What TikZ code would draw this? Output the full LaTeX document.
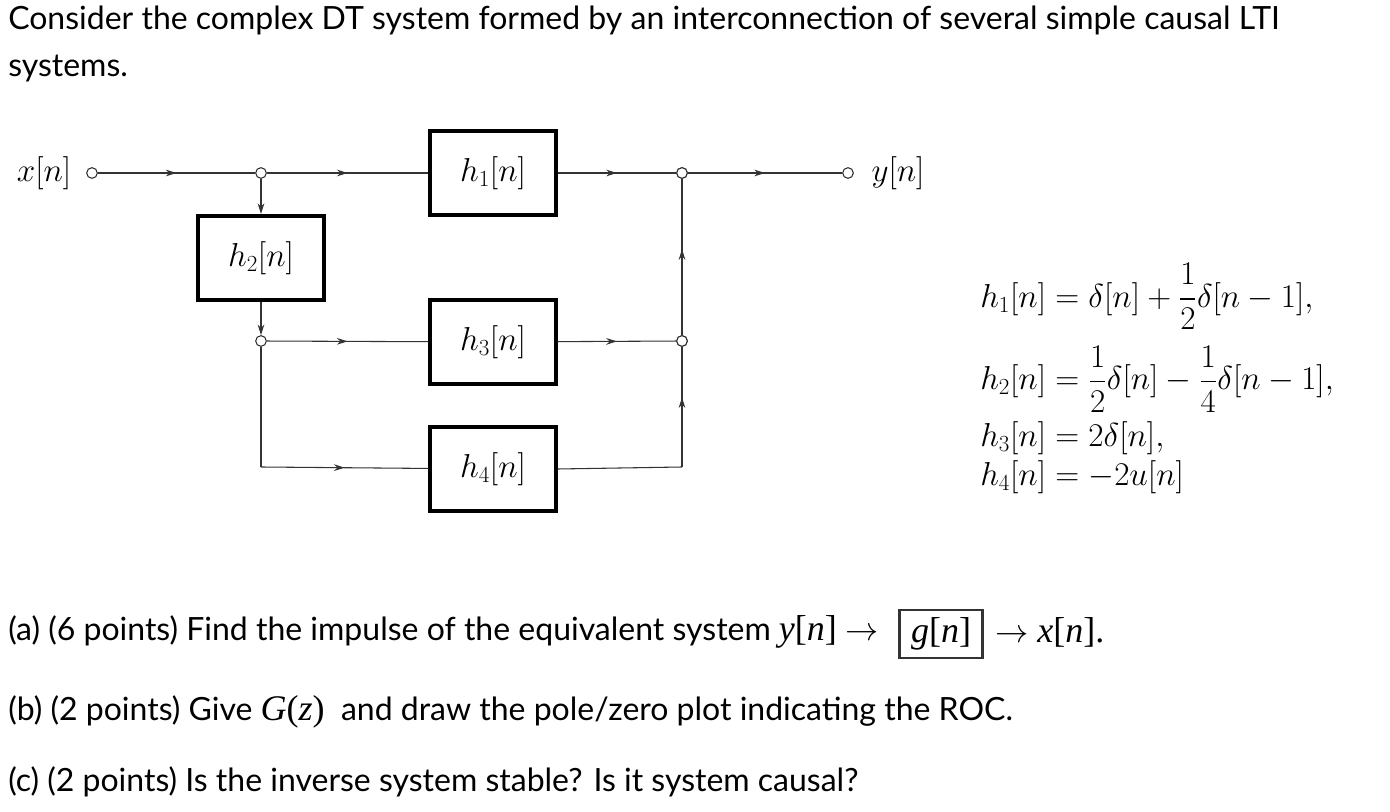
\documentclass[tikz,border=0pt]{standalone}
\usepackage{amsmath}
\usepackage{fontspec}
\setmainfont{Lato}
\newfontfamily\tms{Liberation Serif}
\usetikzlibrary{decorations.markings,arrows.meta}
\begin{document}
\begin{tikzpicture}[x=0.75pt,y=-0.75pt,
  sig/.style={draw=black!80,line width=0.8pt},
  midarr/.style={sig,postaction={decorate},decoration={markings,mark=at position #1 with {\arrow{Stealth[length=8pt,width=5pt]}}}},
  endarr/.style={sig,-{Stealth[length=8pt,width=5pt]}},
  blk/.style={draw,line width=3pt,minimum width=94pt,minimum height=63pt,inner sep=0pt,font=\fontsize{27}{30}\selectfont},
  junc/.style={circle,draw=black!80,fill=white,line width=0.8pt,minimum size=8pt,inner sep=0pt},
  txt/.style={anchor=west,font=\fontsize{24}{28}\selectfont,inner sep=0pt}]
\useasboundingbox (0,0) rectangle (1390,812);
\node[txt] (t1) at (8,20) {Consider the complex DT system formed by an interconnection of several simple causal LTI};
\node[txt] (t2) at (8,69) {systems.};
% blocks
\node[blk] (h1) at (493,173) {$h_1[n]$};
\node[blk] (h2) at (261,258) {$h_2[n]$};
\node[blk] (h3) at (493,342) {$h_3[n]$};
\node[blk] (h4) at (493,469) {$h_4[n]$};
\node[font=\fontsize{27}{30}\selectfont] (x) at (44,173) {$x[n]$};
\node[font=\fontsize{27}{30}\selectfont] (y) at (898,173) {$y[n]$};
\node[junc] (jin) at (92,173) {};
\node[junc] (j1) at (261,173) {};
\node[junc] (j2) at (261,341) {};
\node[junc] (j3) at (682,173) {};
\node[junc] (j4) at (682,341) {};
\node[junc] (jout) at (848,173) {};
\coordinate (c4) at (261,467);
\coordinate (c5) at (682,467);
\draw[midarr=0.5] (jin) -- (j1);
\draw[midarr=0.5] (j1) -- (h1);
\draw[endarr] (j1) -- (h2);
\draw[endarr] (h2) -- (j2);
\draw[midarr=0.5] (j2) -- (h3);
\draw[sig] (j2) -- (c4);
\draw[midarr=0.5] (c4) -- (h4);
\draw[midarr=0.5] (h1) -- (j3);
\draw[midarr=0.5] (h3) -- (j4);
\draw[midarr=0.5] (j3) -- (jout);
\draw[sig] (h4.east) -- (c5);
\draw[midarr=0.58] (c5) -- (j4);
\draw[midarr=0.55] (j4) -- (j3);
\node[junc] at (682,173) {};
\node[junc] at (682,341) {};
% equations
\node[font=\fontsize{25}{28}\selectfont,anchor=west,inner sep=0pt] (eq) at (980,380) {$\begin{aligned}
h_1[n] &= \delta[n] + \frac{1}{2}\delta[n-1],\\[8pt]
h_2[n] &= \frac{1}{2}\delta[n] - \frac{1}{4}\delta[n-1],\\[2pt]
h_3[n] &= 2\delta[n],\\[-2pt]
h_4[n] &= -2u[n]
\end{aligned}$};
% questions
\node[txt] (qa) at (8,632) {(a) (6 points) Find the impulse of the equivalent system {\tms\fontsize{27}{30}\selectfont\itshape y\upshape[\itshape n\upshape] $\rightarrow$}};
\node[draw=black!80,line width=1.8pt,minimum width=62pt,minimum height=36pt,inner sep=0pt,font=\fontsize{27}{30}\selectfont\tms] (g) at (941,634) {\itshape g\upshape[\itshape n\upshape]};
\node[txt,font=\fontsize{27}{30}\selectfont\tms] (qa2) at (995,632) {$\rightarrow$ \itshape x\upshape[\itshape n\upshape].};
\node[txt] (qb) at (8,712) {(b) (2 points) Give {\tms\fontsize{27}{30}\selectfont\itshape G\upshape(\itshape z\upshape)}\ \ and draw the pole/zero plot indicating the ROC.};
\node[txt] (qc) at (8,782) {(c) (2 points) Is the inverse system stable? Is it system causal?};
\end{tikzpicture}
\end{document}
